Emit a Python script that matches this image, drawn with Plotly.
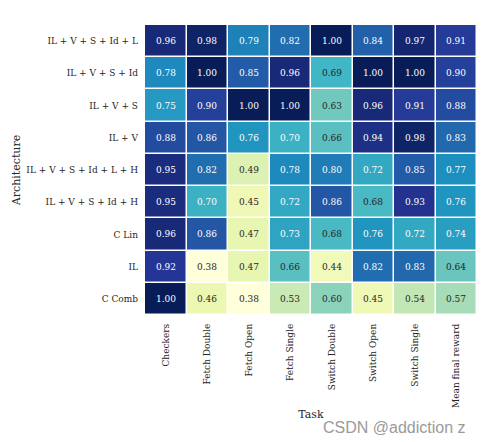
import plotly.graph_objects as go

# tasks (columns) and architectures (rows, top to bottom)
tasks = ['Checkers', 'Fetch Double', 'Fetch Open', 'Fetch Single',
         'Switch Double', 'Switch Open', 'Switch Single', 'Mean final reward']
architectures = ['IL + V + S + Id + L', 'IL + V + S + Id', 'IL + V + S', 'IL + V',
                 'IL + V + S + Id + L + H', 'IL + V + S + Id + H', 'C Lin', 'IL', 'C Comb']

row_il_v_s_id_l = [0.96, 0.98, 0.79, 0.82, 1.00, 0.84, 0.97, 0.91]
row_il_v_s_id = [0.78, 1.00, 0.85, 0.96, 0.69, 1.00, 1.00, 0.90]
row_il_v_s = [0.75, 0.90, 1.00, 1.00, 0.63, 0.96, 0.91, 0.88]
row_il_v = [0.88, 0.86, 0.76, 0.70, 0.66, 0.94, 0.98, 0.83]
row_il_v_s_id_l_h = [0.95, 0.82, 0.49, 0.78, 0.80, 0.72, 0.85, 0.77]
row_il_v_s_id_h = [0.95, 0.70, 0.45, 0.72, 0.86, 0.68, 0.93, 0.76]
row_c_lin = [0.96, 0.86, 0.47, 0.73, 0.68, 0.76, 0.72, 0.74]
row_il = [0.92, 0.38, 0.47, 0.66, 0.44, 0.82, 0.83, 0.64]
row_c_comb = [1.00, 0.46, 0.38, 0.53, 0.60, 0.45, 0.54, 0.57]

z = [row_il_v_s_id_l, row_il_v_s_id, row_il_v_s, row_il_v, row_il_v_s_id_l_h,
     row_il_v_s_id_h, row_c_lin, row_il, row_c_comb]

# matplotlib / colorbrewer YlGnBu, light to dark
ylgnbu = ['#ffffd9', '#edf8b1', '#c7e9b4', '#7fcdbb', '#41b6c4',
          '#1d91c0', '#225ea8', '#253494', '#081d58']
colorscale = [[i / (len(ylgnbu) - 1), c] for i, c in enumerate(ylgnbu)]

zmin = min(min(r) for r in z)
zmax = max(max(r) for r in z)

serif = 'DejaVu Serif'

fig = go.Figure(go.Heatmap(
    z=z, x=tasks, y=architectures,
    colorscale=colorscale, zmin=zmin, zmax=zmax,
    showscale=False, xgap=1.5, ygap=1.5,
    hovertemplate='%{y}<br>%{x}: %{z:.2f}<extra></extra>'
))

# cell labels, dark text on the light cells
annotations = []
for arch, row in zip(architectures, z):
    for task, v in zip(tasks, row):
        annotations.append(dict(
            x=task, y=arch, text=f'{v:.2f}', showarrow=False,
            font=dict(family=serif, size=9,
                      color='#262626' if v < 0.70 else 'white')
        ))

# watermark
annotations.append(dict(
    text='CSDN @addiction z', xref='paper', yref='paper',
    x=0.973, y=-0.388, xanchor='right', yanchor='middle', showarrow=False,
    font=dict(family='Liberation Sans', size=16, color='#9a9a9a')
))

fig.update_layout(
    width=483, height=442,
    margin=dict(l=145, r=6, t=25, b=127),
    plot_bgcolor='white', paper_bgcolor='white',
    font=dict(family=serif, size=9, color='#262626'),
    annotations=annotations,
)
fig.update_xaxes(tickangle=-90, showgrid=False, zeroline=False, ticks='',
                 ticklabelstandoff=6, automargin=False,
                 tickfont=dict(family=serif, size=9),
                 title=dict(text='Task', font=dict(family=serif, size=11), standoff=3))
fig.update_yaxes(autorange='reversed', showgrid=False, zeroline=False, ticks='',
                 ticklabelstandoff=6, automargin=False,
                 tickfont=dict(family=serif, size=9),
                 title=dict(text='Architecture', font=dict(family=serif, size=11), standoff=3))

# drop the default body margin so the figure fills the window exactly
fig.write_html("out.html", config={'displayModeBar': False},
               post_script="document.body.style.margin = '0';")
